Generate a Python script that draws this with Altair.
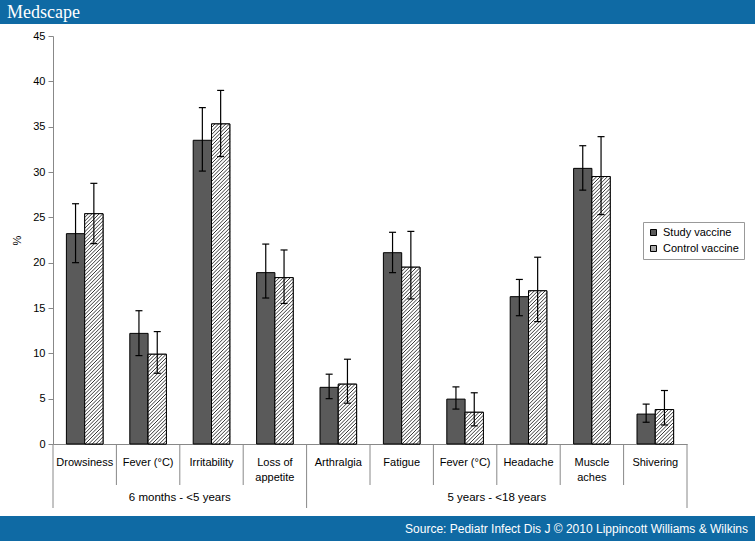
import altair as alt
import pandas as pd

# ---------------- data ----------------
categories = ["Drowsiness", "Fever (°C)", "Irritability", "Loss of\nappetite",
              "Arthralgia", "Fatigue", "Fever (°C)", "Headache", "Muscle\naches", "Shivering"]
study = [23.2, 12.2, 33.5, 18.9, 6.25, 21.1, 4.95, 16.25, 30.4, 3.3]
study_lo = [20.0, 9.75, 30.1, 16.1, 5.0, 18.9, 3.85, 14.15, 28.0, 2.4]
study_hi = [26.5, 14.7, 37.1, 22.05, 7.7, 23.35, 6.3, 18.15, 32.9, 4.4]
control = [25.4, 9.9, 35.3, 18.35, 6.6, 19.5, 3.5, 16.9, 29.5, 3.8]
control_lo = [22.1, 7.8, 31.7, 15.5, 4.5, 16.0, 2.0, 13.5, 25.3, 2.1]
control_hi = [28.75, 12.4, 39.0, 21.4, 9.35, 23.45, 5.65, 20.6, 33.9, 5.9]
groups = ["6 months - <5 years", "5 years - <18 years"]
group_sizes = [4, 6]
vaccines = ["Study vaccine", "Control vaccine"]
y_ticks = [0, 5, 10, 15, 20, 25, 30, 35, 40, 45]
header_text = "Medscape"
source_text = "Source: Pediatr Infect Dis J © 2010 Lippincott Williams & Wilkins"

# ---------------- layout constants ----------------
W_PLOT, H_PLOT = 634, 408
N = len(categories)
KX = W_PLOT / N
KY = H_PLOT / 45
BW = 18.3 / KX          # bar width in data units
CAP = 3.5 / KX          # half cap width
HATCH_W = 18.3          # hatch width in px
HATCH_S = 3.6           # hatch spacing in px
BLUE = "#0f6aa4"
AX = "#888888"
FONT = "Liberation Sans"

rows = []
for i, c in enumerate(categories):
    rows.append(dict(category=c, idx=i, vaccine=vaccines[0], value=study[i], lo=study_lo[i], hi=study_hi[i]))
    rows.append(dict(category=c, idx=i, vaccine=vaccines[1], value=control[i], lo=control_lo[i], hi=control_hi[i]))
df = pd.DataFrame(rows)

cat_df = pd.DataFrame({"label": categories, "idx": list(range(N))})

starts, s = [], 0
for g in group_sizes:
    starts.append(s)
    s += g
grp_df = pd.DataFrame({"label": groups, "start": starts,
                       "end": [a + b for a, b in zip(starts, group_sizes)]})
major = sorted(set(starts + [N]))
bnd_df = pd.DataFrame({"pos": list(range(N + 1))})
bnd_df["major"] = bnd_df["pos"].isin(major)

one = pd.DataFrame({"k": [0]})

XS = alt.Scale(domain=[0, N], nice=False, zero=False)
YS = alt.Scale(domain=[0, 45], nice=False)
XA = alt.Axis(labels=False, ticks=False, grid=False, title=None, domainColor=AX)
YA = alt.Axis(values=y_ticks, grid=False, title="%", titleFontWeight="normal",
              titleFontSize=11, titleColor="black", titlePadding=10,
              labelFontSize=11, labelColor="black", tickColor=AX, domainColor=AX,
              tickSize=5, labelPadding=3)

base = alt.Chart(df).transform_calculate(
    xl=f"datum.idx + 0.5 + (datum.vaccine == 'Study vaccine' ? {-BW} : 0)"
).transform_calculate(
    xr=f"datum.xl + {BW}", xc=f"datum.xl + {BW / 2}",
    capl=f"datum.xl + {BW / 2 - CAP}", capr=f"datum.xl + {BW / 2 + CAP}"
)

bars = base.mark_bar(stroke="black", strokeWidth=1).encode(
    x=alt.X("xl:Q", scale=XS, axis=XA),
    x2="xr:Q",
    y=alt.Y("value:Q", scale=YS, axis=YA),
    y2=alt.datum(0),
    color=alt.Color("vaccine:N",
                    scale=alt.Scale(domain=vaccines, range=["#5a5a5a", "#a9a9a9"]),
                    legend=alt.Legend(title=None, orient="none", legendX=590, legendY=186,
                                      strokeColor="#999999", fillColor="white", padding=5,
                                      symbolType="square", symbolSize=36,
                                      symbolStrokeColor="black", symbolStrokeWidth=1,
                                      labelFontSize=11, labelColor="black", labelOffset=4,
                                      rowPadding=4)),
)

ctrl = base.transform_filter("datum.vaccine == 'Control vaccine'")

ctrl_white = ctrl.mark_rect(fill="white").encode(
    x=alt.X("xl:Q", scale=XS, axis=XA), x2="xr:Q",
    y=alt.Y("value:Q", scale=YS, axis=YA), y2=alt.datum(0),
)

hatch = ctrl.transform_calculate(
    hpx=f"datum.value * {KY}"
).transform_calculate(
    cs=f"sequence({-HATCH_W}, datum.hpx, {HATCH_S})"
).transform_flatten(["cs"]).transform_calculate(
    p0="max(0, -datum.cs)", p1=f"min({HATCH_W}, datum.hpx - datum.cs)"
).transform_filter("datum.p1 > datum.p0").transform_calculate(
    hx0=f"datum.xl + datum.p0 / {KX}", hx1=f"datum.xl + datum.p1 / {KX}",
    hy0=f"(datum.p0 + datum.cs) / {KY}", hy1=f"(datum.p1 + datum.cs) / {KY}",
).mark_rule(color="#222222", strokeWidth=0.9).encode(
    x=alt.X("hx0:Q", scale=XS, axis=XA), x2="hx1:Q",
    y=alt.Y("hy0:Q", scale=YS, axis=YA), y2="hy1:Q",
)

ctrl_outline = ctrl.mark_rect(fillOpacity=0, stroke="black", strokeWidth=1).encode(
    x=alt.X("xl:Q", scale=XS, axis=XA), x2="xr:Q",
    y=alt.Y("value:Q", scale=YS, axis=YA), y2=alt.datum(0),
)

err = base.mark_rule(color="black", strokeWidth=1.2).encode(
    x=alt.X("xc:Q", scale=XS, axis=XA),
    y=alt.Y("lo:Q", scale=YS, axis=YA), y2="hi:Q",
)
cap_lo = base.mark_rule(color="black", strokeWidth=1.2).encode(
    x=alt.X("capl:Q", scale=XS, axis=XA), x2="capr:Q",
    y=alt.Y("lo:Q", scale=YS, axis=YA),
)
cap_hi = base.mark_rule(color="black", strokeWidth=1.2).encode(
    x=alt.X("capl:Q", scale=XS, axis=XA), x2="capr:Q",
    y=alt.Y("hi:Q", scale=YS, axis=YA),
)

sep_minor = alt.Chart(bnd_df).transform_filter("!datum.major").mark_rule(
    color=AX, strokeWidth=1).encode(
    x=alt.X("pos:Q", scale=XS, axis=XA),
    y=alt.value(H_PLOT), y2=alt.value(H_PLOT + 41),
)
sep_major = alt.Chart(bnd_df).transform_filter("datum.major").mark_rule(
    color=AX, strokeWidth=1).encode(
    x=alt.X("pos:Q", scale=XS, axis=XA),
    y=alt.value(H_PLOT), y2=alt.value(H_PLOT + 64),
)

cat_text = alt.Chart(cat_df).transform_calculate(
    xm="datum.idx + 0.5"
).mark_text(fontSize=11, font=FONT, color="black", lineBreak="\n", lineHeight=15,
            baseline="alphabetic", align="center").encode(
    x=alt.X("xm:Q", scale=XS, axis=XA),
    y=alt.value(H_PLOT + 22),
    text="label:N",
)

grp_text = alt.Chart(grp_df).transform_calculate(
    xm="(datum.start + datum.end) / 2"
).mark_text(fontSize=11.5, font=FONT, color="black", baseline="alphabetic",
            align="center").encode(
    x=alt.X("xm:Q", scale=XS, axis=XA),
    y=alt.value(H_PLOT + 57),
    text="label:N",
)

header = alt.Chart(one).mark_rect(color=BLUE).encode(
    x=alt.value(-53), x2=alt.value(W_PLOT + 68), y=alt.value(-36), y2=alt.value(-12))
header_t = alt.Chart(one).mark_text(text=header_text, font="Liberation Serif", fontSize=18,
                                     color="white", align="left", baseline="alphabetic").encode(
    x=alt.value(-46), y=alt.value(-18.5))
footer = alt.Chart(one).mark_rect(color=BLUE).encode(
    x=alt.value(-53), x2=alt.value(W_PLOT + 68), y=alt.value(H_PLOT + 72), y2=alt.value(H_PLOT + 97))
footer_t = alt.Chart(one).mark_text(text=source_text, font=FONT, fontSize=12,
                                     color="white", align="right", baseline="alphabetic").encode(
    x=alt.value(W_PLOT + 61), y=alt.value(H_PLOT + 89))

chart = alt.layer(
    bars, ctrl_white, hatch, ctrl_outline, err, cap_lo, cap_hi,
    sep_minor, sep_major, cat_text, grp_text, header, header_t, footer, footer_t
).properties(
    width=W_PLOT, height=H_PLOT,
    padding={"left": 53, "top": 36, "right": 68, "bottom": 97},
    autosize=alt.AutoSizeParams(type="none"),
).configure(font=FONT, background="white").configure_view(stroke=None)

chart.save("out.html", embed_options={"renderer": "svg", "actions": False})
